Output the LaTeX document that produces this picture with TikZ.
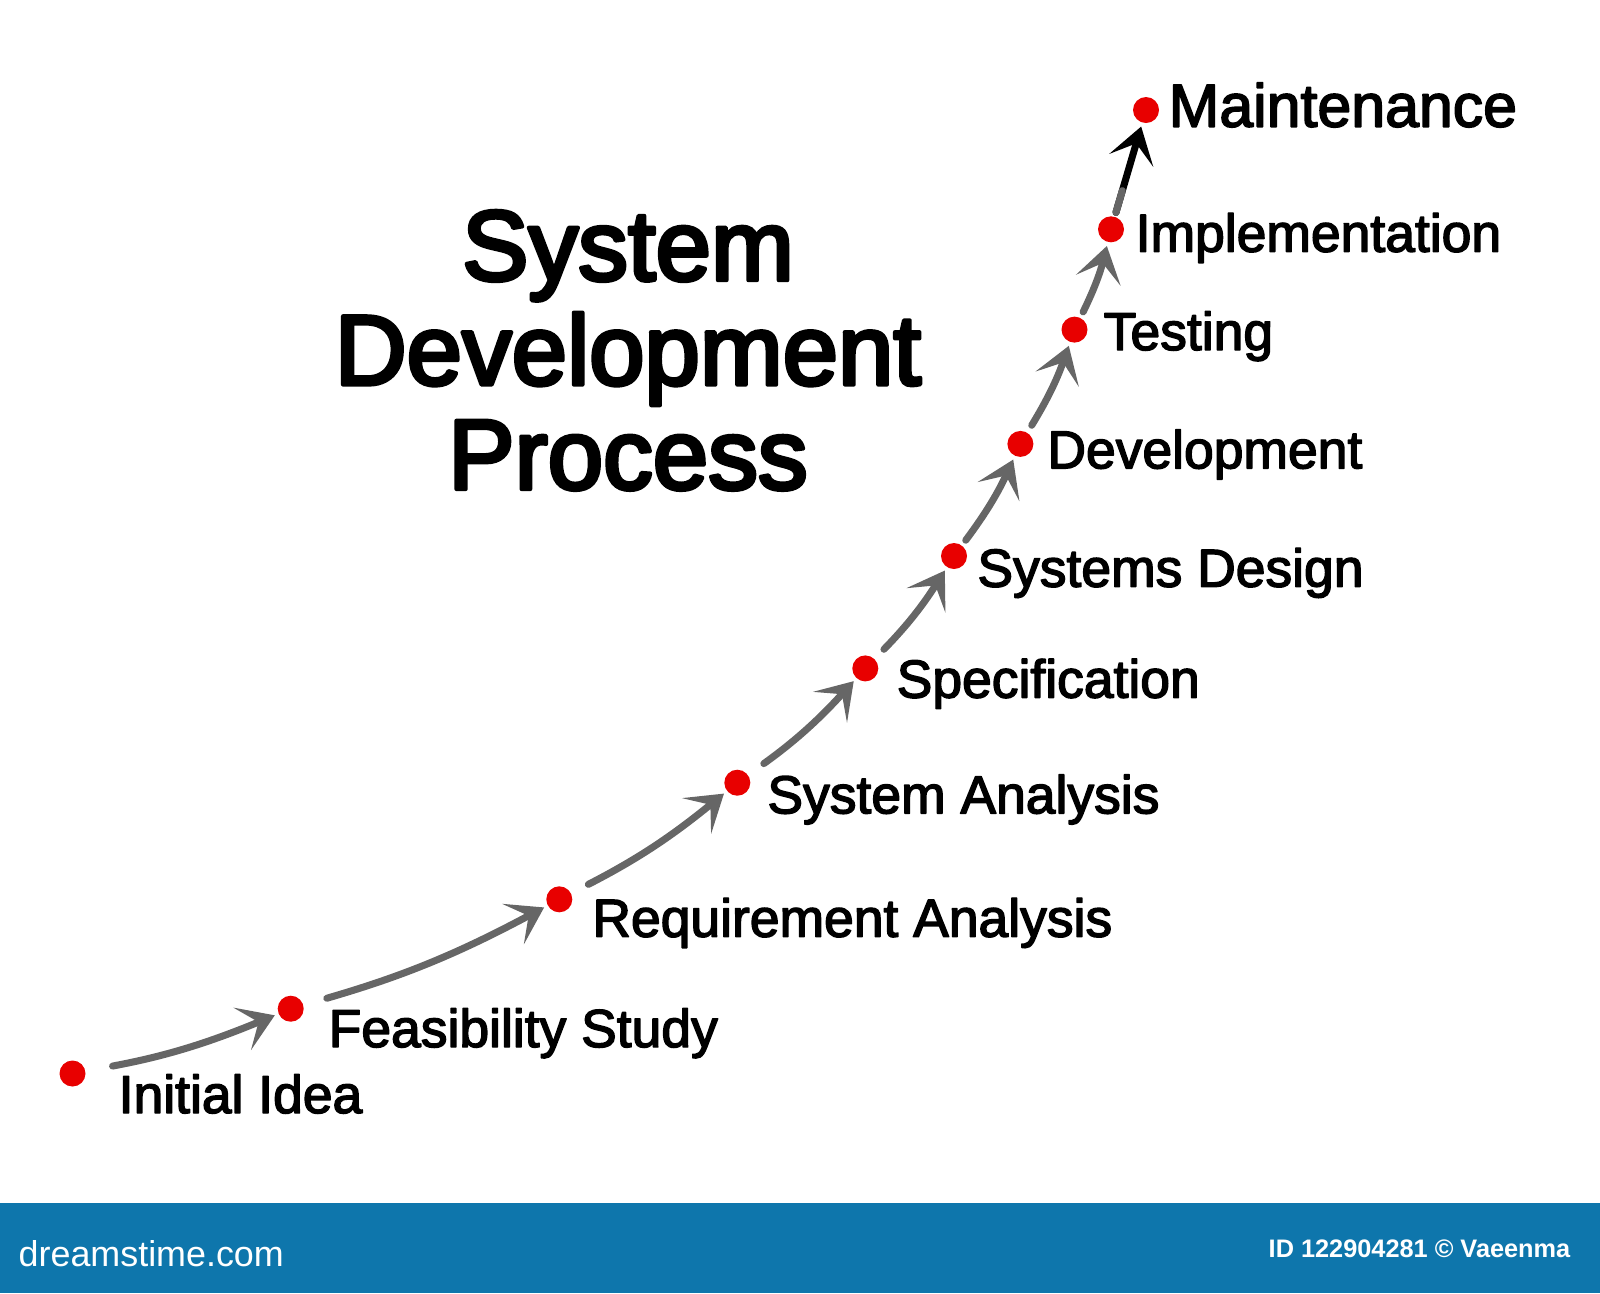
\documentclass[tikz,border=0pt]{standalone}
\usepackage{fontspec}
\setmainfont{Liberation Sans}
\newfontfamily\lblfont[FakeBold=2.7]{Liberation Sans}
\newfontfamily\headfont[FakeBold=4]{Liberation Sans}
\usetikzlibrary{arrows.meta}
\definecolor{dotred}{RGB}{232,0,0}
\definecolor{flowgray}{RGB}{102,102,102}
\definecolor{barblue}{RGB}{14,118,172}
\tikzset{
  dot/.style={circle, fill=dotred, inner sep=0pt, minimum size=26*0.01cm},
  lbl/.style={anchor=base west, inner sep=0pt, font=\lblfont\fontsize{15.2}{18}\selectfont},
  lblbig/.style={lbl, font=\lblfont\fontsize{17.3}{20}\selectfont},
  flow/.style={draw=flowgray, line width=2pt, -{Stealth[length=10pt, width=13pt, inset=5pt]}}
}
\begin{document}
\begin{tikzpicture}[x=0.01cm, y=-0.01cm, line join=round, line cap=round]
\useasboundingbox (0,0) rectangle (1600,1293);
% title
\node[align=center, anchor=north, inner sep=0pt, font=\headfont\fontsize{28.3}{29.7}\selectfont] (title) at (628,210) {System\\Development\\Process};
% stages: name / dot / label / style
\foreach \n/\p/\t/\q/\s in {
  s1/{72.5,1073.5}/Initial Idea/{118,1113}/lbl,
  s2/{290.7,1008.7}/Feasibility Study/{328,1047}/lbl,
  s3/{559.3,899.3}/Requirement Analysis/{591.7,936.7}/lbl,
  s4/{737.3,782.7}/System Analysis/{766.7,813.3}/lbl,
  s5/{865.3,668.4}/Specification/{896,697.6}/lbl,
  s6/{954,556}/Systems Design/{976.7,586.7}/lbl,
  s7/{1020.4,443.9}/Development/{1046.7,468.3}/lbl,
  s8/{1074.5,329.6}/Testing/{1103,350}/lbl,
  s9/{1111,229.3}/Implementation/{1135,251.7}/lbl,
  s10/{1146,110}/Maintenance/{1168,126.7}/lblbig}{
\node[dot] (\n) at (\p) {};
\node[\s] (\n-t) at (\q) {\t};
}
% arrows
\foreach \a/\b/\g in {s1/s2/7.7, s2/s3/6.8, s3/s4/5.4, s4/s5/5.4, s5/s6/3.7, s6/s7/1.7, s7/s8/2.3, s8/s9/1.7}{
\draw[flow, shorten <=\g pt, shorten >=1pt] (\a) to[bend right=6] (\b);
}
\draw[flow, draw=black, shorten <=1.1pt, shorten >=1pt] (s9) -- (s10);
\draw[draw=flowgray, line width=2pt, shorten <=1.1pt, shorten >=20pt] (s9) -- (s10);
% footer bar
\fill[barblue] (0,1203) rectangle (1600,1293);
\node[anchor=base west, inner sep=0pt, text=white, font=\fontsize{10.2}{12}\selectfont] (site) at (18,1266) {dreamstime.com};
\node[anchor=base west, inner sep=0pt, text=white, font=\bfseries\fontsize{7.2}{9}\selectfont] (credit) at (1268,1257) {ID 122904281 © Vaeenma};
\end{tikzpicture}
\end{document}
